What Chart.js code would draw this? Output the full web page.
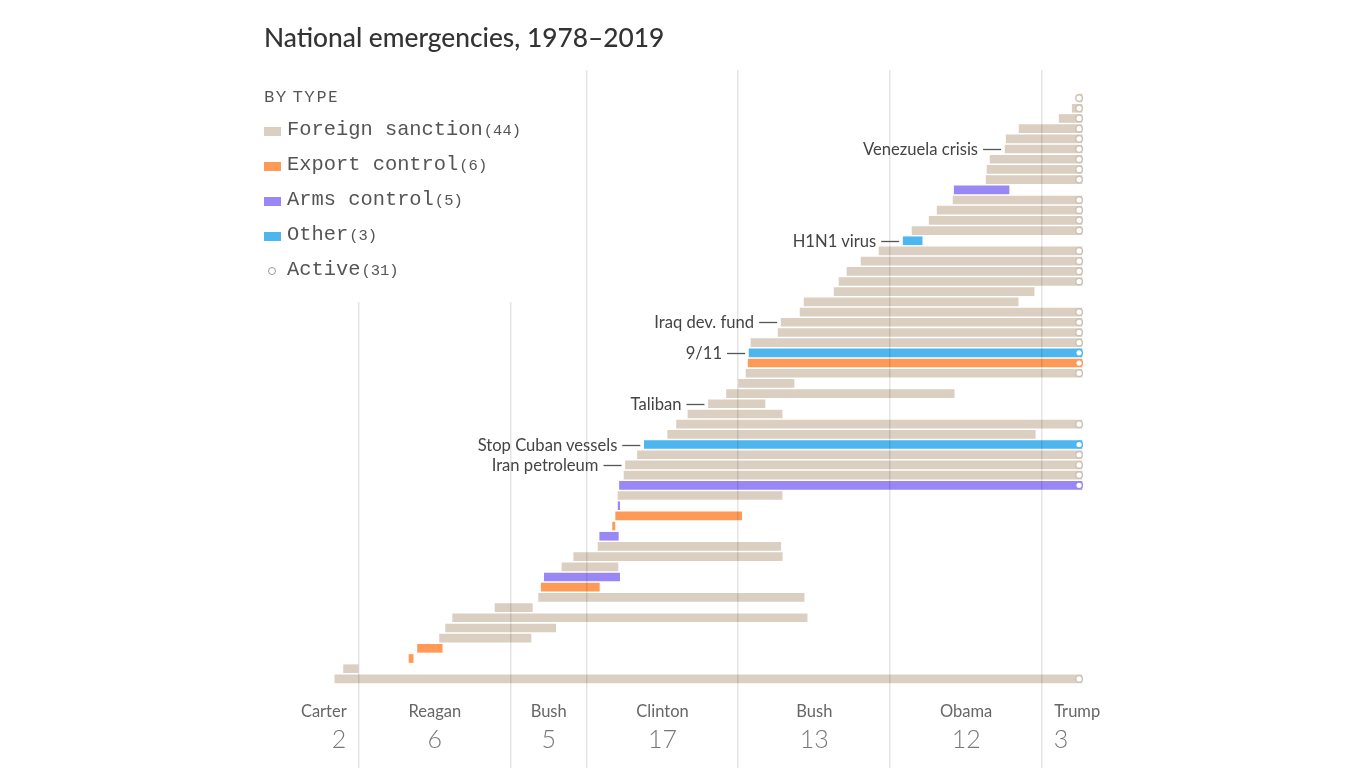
<!DOCTYPE html>
<html><head><meta charset="utf-8">
<script src="https://cdn.jsdelivr.net/npm/chart.js@4.4.1/dist/chart.umd.min.js"></script>
<style>
html,body{margin:0;padding:0;background:#fff;}
#wrap{position:relative;width:1366px;height:768px;overflow:hidden;font-family:Lato,"Noto Sans",sans-serif;}
#c{position:absolute;left:0;top:0;}
.title{position:absolute;left:264px;top:21px;font-size:26.3px;color:#333;font-weight:500;white-space:nowrap;}
.bytype{position:absolute;left:264px;top:86px;font-size:16px;color:#555;letter-spacing:2px;}
.leg{position:absolute;left:264px;height:20px;white-space:nowrap;color:#555;font-family:"Liberation Mono",monospace;}
.leg .sw{position:absolute;left:0;top:6px;width:17px;height:9px;}
.leg .lbl{position:absolute;left:23px;top:-3px;font-size:20.4px;}
.leg .cnt{font-size:15.5px;margin-left:1px;}
.leg .circ{position:absolute;left:4px;top:6px;width:6px;height:6px;border:1.3px solid #999;border-radius:50%;}
.ann{position:absolute;font-size:16.6px;color:#444;white-space:nowrap;transform:translate(-100%,-50%);}
.pname{position:absolute;font-size:16.5px;color:#666;white-space:nowrap;transform:translateX(-50%);}
.pcnt{position:absolute;font-size:25px;color:#777;font-weight:300;white-space:nowrap;transform:translateX(-50%);}
</style></head><body>
<div id="wrap">
<canvas id="c" width="1366" height="768"></canvas>
<div class="title">National emergencies, 1978–2019</div>
<div class="bytype">BY TYPE</div>
<div id="legend"></div>
<div id="labels"></div>
</div>
<script>
// ---------- DATA (row 0 = most recent, at top) ----------
const rowIds = Array.from({length:58},(_,i)=>'E'+(58-i));
const startYears = [2018.97,2018.64,2017.95,2015.84,2015.16,2015.10,2014.31,2014.15,2014.10,2012.42,
  2012.36,2011.52,2011.10,2010.20,2009.73,2008.46,2007.51,2006.77,2006.35,2006.09,
  2004.51,2004.30,2003.30,2003.14,2001.71,2001.61,2001.56,2001.45,2001.06,2000.42,
  1999.47,1998.39,1997.79,1997.32,1996.09,1995.73,1995.10,1995.02,1994.78,1994.70,
  1994.71,1994.58,1994.42,1993.74,1993.65,1992.37,1991.75,1990.82,1990.66,1990.52,
  1988.22,1985.99,1985.62,1985.30,1984.14,1983.69,1980.24,1979.78];
const endYears = [2019.15,2019.15,2019.15,2019.15,2019.15,2019.15,2019.15,2019.15,2019.15,2015.31,
  2019.15,2019.15,2019.15,2019.15,2010.73,2019.15,2019.15,2019.15,2019.15,2016.63,
  2015.79,2019.15,2019.15,2019.15,2019.15,2019.15,2019.15,2019.15,2003.98,2012.42,
  2002.45,2003.35,2019.15,2016.69,2019.15,2019.15,2019.15,2019.15,2019.15,2003.35,
  1994.79,2001.22,1994.54,1994.72,2003.28,2003.36,1994.70,1994.79,1993.72,2004.51,
  1990.19,2004.67,1991.42,1990.12,1985.44,1983.91,1981.01,2019.15];
const types = ['F','F','F','F','F','F','F','F','F','A',
  'F','F','F','F','O','F','F','F','F','F',
  'F','F','F','F','F','O','E','F','F','F',
  'F','F','F','F','O','F','F','F','A','F',
  'A','E','E','A','F','F','F','A','E','F',
  'F','F','F','F','E','E','F','F'];
const isActive = [1,1,1,1,1,1,1,1,1,0, 1,1,1,1,0,1,1,1,1,0, 0,1,1,1,1,1,1,1,0,0,
  0,0,1,0,1,1,1,1,1,0, 0,0,0,0,0,0,0,0,0,0, 0,0,0,0,0,0,0,1];
const ACTIVE_MARK_YEAR = 2019.0;

const typeNames = {F:'Foreign sanction',E:'Export control',A:'Arms control',O:'Other'};
const typeCounts = {F:44,E:6,A:5,O:3};
const activeCount = 31;

const annotationRows = [5,14,22,25,30,34,36];
const annotationTexts = ['Venezuela crisis','H1N1 virus','Iraq dev. fund','9/11','Taliban','Stop Cuban vessels','Iran petroleum'];

const presidents = ['Carter','Reagan','Bush','Clinton','Bush','Obama','Trump'];
const presidentCounts = [2,6,5,17,13,12,3];
const termStarts = [1977.05,1981.05,1989.05,1993.05,2001.05,2009.05,2017.05];
const nameCenterYears = [1979.2,1985.05,1991.05,1997.05,2005.05,2013.05,2018.9];
const countCenterYears = [1980.0,1985.05,1991.05,1997.05,2005.05,2013.05,2018.05];

// ---------- STYLE ----------
const COLORS = {F:'#dbcfc1',E:'#ff9a56',A:'#9a87f6',O:'#4eb6ee'};
const RING = {F:'#cdc1b3',E:'#ff9a56',A:'#9a87f6',O:'#4eb6ee'};
const lineTops = [null,302,302,70,70,70,70];

const gridPlugin = {
  id:'grid',
  afterDatasetDraw(chart,args){
    if(args.index!==0) return;
    const c=chart.ctx, xs=chart.scales.x, ys=chart.scales.y;
    c.save();
    c.strokeStyle='rgba(0,0,0,0.1)'; c.lineWidth=1.5;
    termStarts.forEach((t,i)=>{
      if(lineTops[i]==null) return;
      const x=Math.round(xs.getPixelForValue(t))-0.25;
      c.beginPath(); c.moveTo(x,lineTops[i]); c.lineTo(x,chart.height); c.stroke();
    });
    c.strokeStyle='#555'; c.lineWidth=1.3;
    annotationRows.forEach(r=>{
      const x=xs.getPixelForValue(startYears[r]); const y=Math.round(ys.getPixelForValue(r))+0.5;
      c.beginPath(); c.moveTo(x-22,y); c.lineTo(x-4,y); c.stroke();
    });
    c.restore();
  }
};

const barData = rowIds.map((_,i)=>[startYears[i],endYears[i]]);
const activePts = [], activeRing=[];
rowIds.forEach((id,i)=>{ if(isActive[i]){ activePts.push({x:ACTIVE_MARK_YEAR,y:id}); activeRing.push(RING[types[i]]); }});

const chart = new Chart(document.getElementById('c'),{
  type:'bar',
  data:{labels:rowIds,datasets:[
    {type:'bar',data:barData,backgroundColor:types.map(t=>COLORS[t]),borderWidth:0,barThickness:8,borderSkipped:false,order:2},
    {type:'scatter',data:activePts,pointRadius:3.3,pointBorderWidth:1.4,pointBackgroundColor:'#fff',pointBorderColor:activeRing,order:1}
  ]},
  options:{
    indexAxis:'y',responsive:false,animation:false,devicePixelRatio:1,
    layout:{padding:{left:283,right:267,top:93,bottom:84}},
    scales:{
      x:{type:'linear',min:1977.05,max:2020.05,display:false},
      y:{type:'category',display:false,offset:true,grid:{display:false}}
    },
    plugins:{legend:{display:false},tooltip:{enabled:false}},
    events:[]
  },
  plugins:[gridPlugin]
});

// ---------- HTML legend & labels ----------
const legend=document.getElementById('legend');
['F','E','A','O'].forEach((t,i)=>{
  const d=document.createElement('div'); d.className='leg'; d.style.top=(121+i*35)+'px';
  d.innerHTML='<div class="sw" style="background:'+COLORS[t]+'"></div><div class="lbl">'+typeNames[t]+'<span class="cnt">('+typeCounts[t]+')</span></div>';
  legend.appendChild(d);
});
{
  const d=document.createElement('div'); d.className='leg'; d.style.top=(121+4*35)+'px';
  d.innerHTML='<div class="circ"></div><div class="lbl">Active<span class="cnt">('+activeCount+')</span></div>';
  legend.appendChild(d);
}
const labels=document.getElementById('labels');
const xs=chart.scales.x, ys=chart.scales.y;
annotationRows.forEach((r,k)=>{
  const d=document.createElement('div'); d.className='ann';
  d.style.left=(xs.getPixelForValue(startYears[r])-27)+'px';
  d.style.top=ys.getPixelForValue(r)+'px';
  d.textContent=annotationTexts[k]; labels.appendChild(d);
});
presidents.forEach((p,i)=>{
  const n=document.createElement('div'); n.className='pname';
  n.style.left=xs.getPixelForValue(nameCenterYears[i])+'px'; n.style.top='701px'; n.textContent=p; labels.appendChild(n);
  const c=document.createElement('div'); c.className='pcnt';
  c.style.left=xs.getPixelForValue(countCenterYears[i])+'px'; c.style.top='723px'; c.textContent=presidentCounts[i]; labels.appendChild(c);
});
</script>
</body></html>
